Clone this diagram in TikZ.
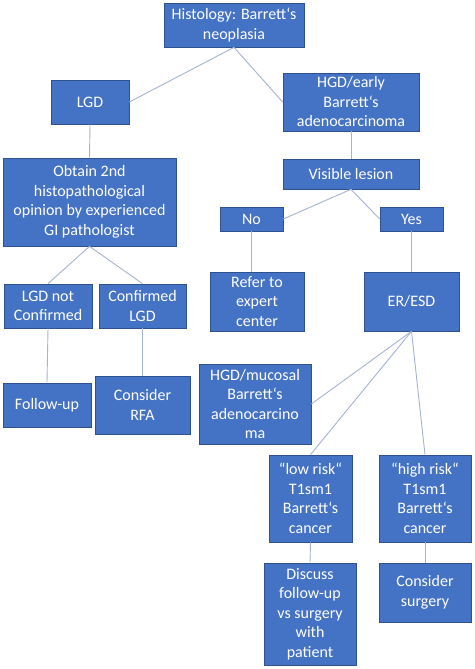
\documentclass[tikz,border=0pt]{standalone}
\usepackage{fontspec}
\setmainfont{Carlito}
\definecolor{boxfill}{HTML}{4472C4}
\definecolor{boxline}{HTML}{2F528F}
\definecolor{conn}{HTML}{A3B3D3}
\begin{document}
\begin{tikzpicture}[x=1pt,y=-1pt,
  bx/.style={draw=boxline, line width=0.7pt, fill=boxfill, text=white, inner sep=0pt,
    align=center, font=\fontsize{16}{19.5}\selectfont, anchor=center},
  ln/.style={draw=conn, line width=0.9pt}]
\useasboundingbox (0,0) rectangle (474,669);
\node[bx, minimum width=140, minimum height=44] (top) at (234,25) {Histology: Barrett‘s\\neoplasia};
\node[bx, minimum width=78, minimum height=44] (lgd) at (90,102) {LGD};
\node[bx, minimum width=136, minimum height=58] (hgd) at (351,102) {HGD/early\\Barrett‘s\\adenocarcinoma};
\node[bx, minimum width=173, minimum height=88] (obtain) at (89.5,202) {Obtain 2nd\\histopathological\\opinion by experienced\\GI pathologist};
\node[bx, minimum width=136, minimum height=30] (vis) at (351,174) {Visible lesion};
\node[bx, minimum width=63, minimum height=24] (no) at (251.5,219) {No};
\node[bx, minimum width=63, minimum height=24] (yes) at (411.5,219) {Yes};
\node[bx, minimum width=94, minimum height=59] (refer) at (257,301.5) {Refer to\\expert\\center};
\node[bx, minimum width=95, minimum height=59] (eresd) at (411.5,301.5) {ER/ESD};
\node[bx, minimum width=88, minimum height=44] (lgdnot) at (48,306) {LGD not\\Confirmed};
\node[bx, minimum width=87, minimum height=44] (conf) at (142.5,306) {Confirmed\\LGD};
\node[bx, minimum width=88, minimum height=44] (follow) at (47,405) {Follow-up};
\node[bx, minimum width=95, minimum height=58] (rfa) at (142.5,405) {Consider\\RFA};
\node[bx, minimum width=112, minimum height=80] (mucosal) at (255,404) {HGD/mucosal\\Barrett‘s\\adenocarcino\\ma};
\node[bx, minimum width=83, minimum height=87] (low) at (310.5,498.5) {“low risk“\\T1sm1\\Barrett‘s\\cancer};
\node[bx, minimum width=92, minimum height=87] (high) at (425,498.5) {“high risk“\\T1sm1\\Barrett‘s\\cancer};
\node[bx, minimum width=92, minimum height=102] (discuss) at (310,614) {Discuss\\follow-up\\vs surgery\\with\\patient};
\node[bx, minimum width=92, minimum height=59] (surg) at (425,592.5) {Consider\\surgery};
\draw[ln] (top.south) -- (lgd.east);
\draw[ln] (top.south) -- (hgd.west);
\draw[ln] (lgd.south) -- (obtain.north);
\draw[ln] (hgd.south) -- (vis.north);
\draw[ln] (vis.south) -- (no.east);
\draw[ln] (vis.south) -- (yes.west);
\draw[ln] (no.south) -- (no.south |- refer.north);
\draw[ln] (yes.south) -- (eresd.north);
\draw[ln] (obtain.south) -- (lgdnot.north);
\draw[ln] (obtain.south) -- (conf.north);
\draw[ln] (lgdnot.south) -- (follow.north);
\draw[ln] (conf.south) -- (rfa.north);
\draw[ln] (eresd.south) -- (mucosal.east);
\draw[ln] (eresd.south) -- (low.north);
\draw[ln] (eresd.south) -- (high.north);
\draw[ln] (low.south) -- (discuss.north);
\draw[ln] (high.south) -- (surg.north);
\end{tikzpicture}
\end{document}
